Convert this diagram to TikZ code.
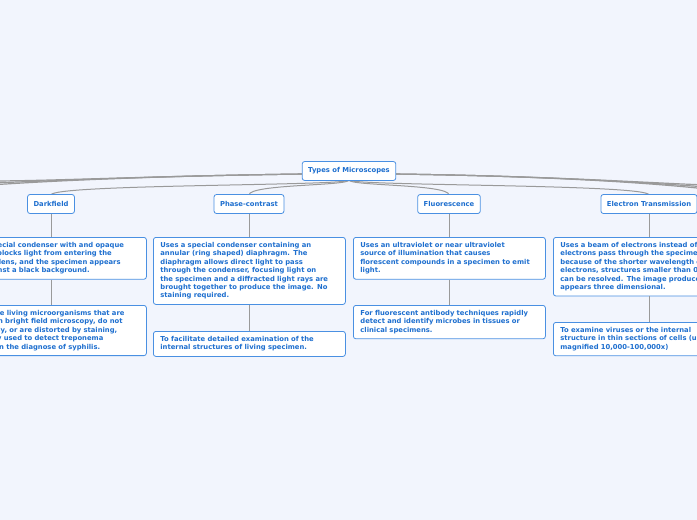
\documentclass[tikz,border=0pt]{standalone}
\usepackage{fontspec}
\setmainfont{DejaVu Sans}
\definecolor{bg}{HTML}{F2F5FD}
\definecolor{bd}{HTML}{4A90E2}
\definecolor{tx}{HTML}{1E6FCF}
\definecolor{ln}{HTML}{9A9A9A}
\begin{document}
\begin{tikzpicture}[x=1pt,y=-1pt,
  base/.style={draw=bd,fill=white,rounded corners=2.5pt,line width=0.8pt,text=tx,font=\bfseries\fontsize{6.8}{8.4}\selectfont},
  topic/.style={base,minimum height=19pt,inner xsep=6pt},
  desc/.style={base,text width=178pt,align=left,inner xsep=7pt,inner ysep=5pt,anchor=north west},
  conn/.style={draw=ln,line width=1pt},
  big/.style={draw=ln,line width=1.2pt}]
\fill[bg] (0,0) rectangle (697,520);
\clip (0,0) rectangle (697,520);
\coordinate (L1) at (-10,183); \coordinate (L2) at (-10,185); \coordinate (L3) at (-10,181);
\coordinate (R1) at (707,187); \coordinate (R2) at (707,189); \coordinate (R3) at (707,185);
\coordinate (rw) at (305,174); \coordinate (re) at (393,174); \coordinate (rs) at (349,180);
\foreach \c in {L1,L2,L3}{\draw[big] (rw) .. controls (150,176) and (50,181) .. (\c);}
\foreach \c in {R1,R2,R3}{\draw[big] (re) .. controls (550,176) and (650,183) .. (\c);}
\draw[conn] (rs) .. controls (349,186) and (51,184) .. (51,195);
\draw[conn] (rs) .. controls (349,186) and (249,184) .. (249,195);
\draw[conn] (rs) .. controls (349,186) and (449,184) .. (449,195);
\draw[conn] (rs) .. controls (349,186) and (649,184) .. (649,195);
\node[topic] (root) at (349,171) {Types of Microscopes};
\node[topic] (dark) at (51,204) {Darkfield};
\node[topic] (phase) at (249,204) {Phase-contrast};
\node[topic] (fluo) at (449,204) {Fluorescence};
\node[topic] (elec) at (649,204) {Electron Transmission};

\node[desc] (d1) at (-46,237) {Uses a special condenser with and opaque\\disc that blocks light from entering the\\objective lens, and the specimen appears\\light against a black background.};
\node[desc] (d2) at (-46,305) {To examine living microorganisms that are\\invisible in bright field microscopy, do not\\stain easily, or are distorted by staining,\\frequently used to detect treponema\\pallidum in the diagnose of syphilis.};
\node[desc] (p1) at (153,237) {Uses a special condenser containing an\\annular (ring shaped) diaphragm. The\\diaphragm allows direct light to pass\\through the condenser, focusing light on\\the specimen and a diffracted light rays are\\brought together to produce the image. No\\staining required.};
\node[desc] (p2) at (153,331) {To facilitate detailed examination of the\\internal structures of living specimen.};
\node[desc] (f1) at (353,237) {Uses an ultraviolet or near ultraviolet\\source of illumination that causes\\florescent compounds in a specimen to emit\\light.};
\node[desc] (f2) at (353,305) {For fluorescent antibody techniques rapidly\\detect and identify microbes in tissues or\\clinical specimens.};
\node[desc] (e1) at (553,237) {Uses a beam of electrons instead of light;\\electrons pass through the specimen,\\because of the shorter wavelength of\\electrons, structures smaller than 0.2 µm\\can be resolved. The image produced\\appears three dimensional.};
\node[desc] (e2) at (553,322) {To examine viruses or the internal\\structure in thin sections of cells (usually\\magnified 10,000-100,000x)};
\draw[conn] (dark.south) -- (dark.south |- d1.north);
\draw[conn] (51,0 |- d1.south) -- (51,0 |- d2.north);
\draw[conn] (phase.south) -- (phase.south |- p1.north);
\draw[conn] (249,0 |- p1.south) -- (249,0 |- p2.north);
\draw[conn] (fluo.south) -- (fluo.south |- f1.north);
\draw[conn] (449,0 |- f1.south) -- (449,0 |- f2.north);
\draw[conn] (elec.south) -- (elec.south |- e1.north);
\draw[conn] (649,0 |- e1.south) -- (649,0 |- e2.north);
\end{tikzpicture}
\end{document}
